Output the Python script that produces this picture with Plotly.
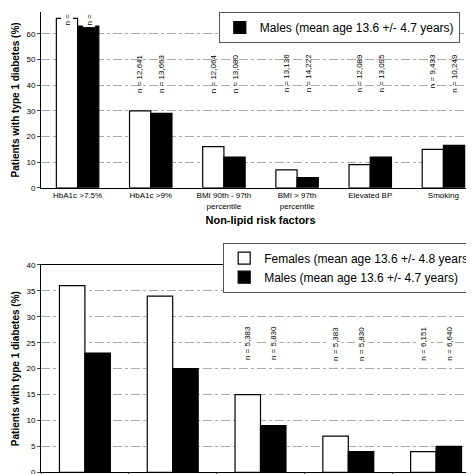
import plotly.graph_objects as go
from plotly.subplots import make_subplots

# top panel: non-lipid risk factors
top_cats = ["HbA1c >7.5%", "HbA1c >9%", "BMI 90th - 97th<br>percentile",
            "BMI > 97th<br>percentile", "Elevated BP", "Smoking"]
top_f = [66, 30, 16, 7, 9, 15]
top_m = [63, 29, 12, 4, 12, 16.5]
top_nf = ["n =", "n = 12,641", "n = 12,064", "n = 13,136", "n = 12,089", "n = 9,433"]
top_nm = ["n =", "n = 13,663", "n = 13,080", "n = 14,222", "n = 13,095", "n = 10,249"]

# bottom panel (category labels cut off in the picture)
bot_cats = ["c1", "c2", "c3", "c4", "c5"]
bot_f = [36, 34, 15, 7, 4]
bot_m = [23, 20, 9, 4, 5]
bot_nf = ["n = 9,148", "n = 8,993", "n = 5,383", "n = 5,383", "n = 6,151"]
bot_nm = ["n = 10,081", "n = 9,914", "n = 5,830", "n = 5,830", "n = 6,640"]

fem = "Females (mean age 13.6 +/- 4.8 years)"
mal = "Males (mean age 13.6 +/- 4.7 years)"

fig = make_subplots(rows=2, cols=1, vertical_spacing=0.1)
white = dict(color="white", line=dict(color="black", width=1.2))
black = dict(color="black", line=dict(color="black", width=1.2))

fig.add_trace(go.Bar(x=top_cats, y=top_f, marker=white, name=fem, showlegend=False), 1, 1)
fig.add_trace(go.Bar(x=top_cats, y=top_m, marker=black, name=mal, legend="legend2"), 1, 1)
fig.add_trace(go.Bar(x=bot_cats, y=bot_f, marker=white, name=fem), 2, 1)
fig.add_trace(go.Bar(x=bot_cats, y=bot_m, marker=black, name=mal), 2, 1)

afont = dict(size=8, color="black", family="Arial")
for i, c in enumerate(top_cats):
    ytop = 68.5 if i == 0 else 53
    for j, t in enumerate([top_nf[i], top_nm[i]]):
        fig.add_annotation(x=c, y=ytop, xref="x", yref="y", text=t, textangle=-90,
                           showarrow=False, yanchor="top", xshift=-11 + 22 * j, font=afont,
                           bgcolor="white" if i == 0 else None)
for i, c in enumerate(bot_cats):
    ytop = 44 if i < 2 else 28.5
    for j, t in enumerate([bot_nf[i], bot_nm[i]]):
        fig.add_annotation(x=c, y=ytop, xref="x2", yref="y2", text=t, textangle=-90,
                           showarrow=False, yanchor="top", xshift=-13 + 26 * j, font=afont,
                           bgcolor="white")

grid = dict(showgrid=True, gridcolor="#aaa", griddash="dashdot", gridwidth=0.8,
            showline=True, linecolor="black", ticks="outside", ticklen=3,
            tickfont=dict(size=8, family="Arial"), zeroline=False)
fig.update_yaxes(**grid)
fig.update_yaxes(range=[0, 68.5], dtick=10, domain=[0.622, 1], row=1, col=1,
                 title=dict(text="<b>Patients with type 1 diabetes (%)</b>", font=dict(size=10), standoff=4))
fig.update_yaxes(range=[0, 40], dtick=5, domain=[0.01, 0.456], row=2, col=1, mirror=True,
                 title=dict(text="<b>Patients with type 1 diabetes (%)</b>", font=dict(size=10), standoff=4))
fig.update_xaxes(showline=True, linecolor="black", tickfont=dict(size=8, family="Arial"))
fig.update_xaxes(row=1, col=1, title=dict(text="<b>Non-lipid risk factors</b>", font=dict(size=11), standoff=6))
fig.update_xaxes(row=2, col=1, showticklabels=False, ticks="outside", tickson="boundaries", ticklen=4, mirror=True)

fig.update_layout(
    width=474, height=474, margin=dict(l=33, r=2, t=0, b=0),
    plot_bgcolor="white", paper_bgcolor="white", barmode="group", bargap=0.42, bargroupgap=0,
    font=dict(family="Arial", color="black"),
    legend=dict(x=0.415, y=0.504, xanchor="left", yanchor="top", bordercolor="#555", borderwidth=1,
                bgcolor="white", font=dict(size=12)),
    legend2=dict(x=0.405, y=1.0, xanchor="left", yanchor="top", bordercolor="#555", borderwidth=1,
                 bgcolor="white", font=dict(size=12)),
)
fig.write_html("out.html")
